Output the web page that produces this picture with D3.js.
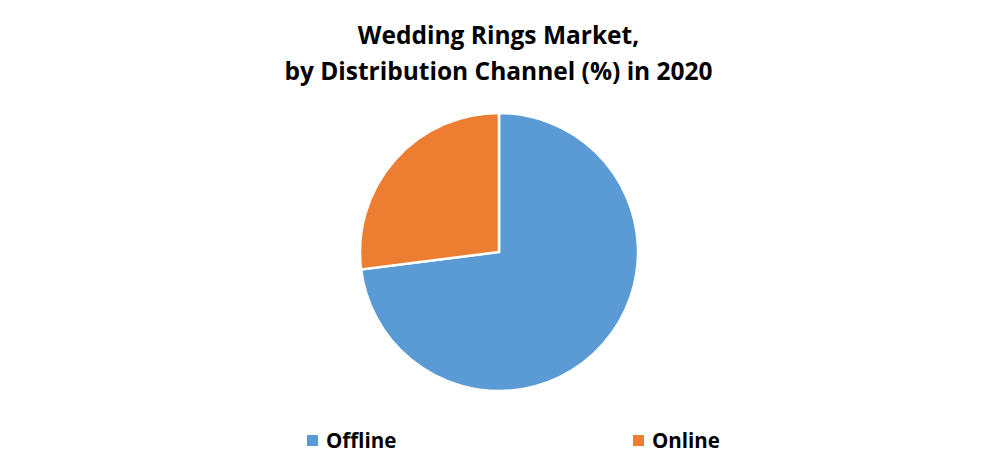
<!DOCTYPE html>
<html>
<head>
<meta charset="utf-8">
<script src="https://cdn.jsdelivr.net/npm/d3@7"></script>
<style>
	body { margin: 0; background: #fff; }
	text { font-family: "Open Sans", "Noto Sans", sans-serif; font-weight: bold; fill: #000; }
</style>
</head>
<body>
<svg id="svg_chart"></svg>
<script>
// data
var categories = ["Offline", "Online"];
var shares = [73, 27];
var colours = ["#5b9bd5", "#ed7d31"];
var title_lines = ["Wedding Rings Market,", "by Distribution Channel (%) in 2020"];

var width = 997,
	height = 471;

var pie_cx = 499,
	pie_cy = 252,
	pie_r = 139;

var svg = d3.select("svg#svg_chart")
	.attr("width", width)
	.attr("height", height);

// ====================================================
// title
svg.append("g")
	.attr("class", "title")
	.selectAll("text")
	.data(title_lines)
	.enter().append("text")
	.attr("x", width / 2)
	.attr("y", function(d, i) { return 44 + i * 36; })
	.attr("text-anchor", "middle")
	.style("font-size", "24.5px")
	.text(function(d) { return d; });

// ====================================================
// the pie, starting at 12 o'clock and going clockwise
var pie = d3.pie()
	.sort(null)
	.value(function(d) { return d; });

var arc = d3.arc()
	.innerRadius(0)
	.outerRadius(pie_r);

var slices = pie(shares);

svg.append("g")
	.attr("transform", "translate(" + pie_cx + "," + pie_cy + ")")
	.selectAll("path")
	.data(slices)
	.enter().append("path")
	.attr("d", arc)
	.attr("fill", function(d, i) { return colours[i]; })
	.attr("stroke", "#fff")
	.attr("stroke-width", 2.5)
	.attr("stroke-linejoin", "miter");

// ====================================================
// legend along the bottom
var x_legend = d3.scalePoint()
	.domain(categories)
	.range([307, 633]);

var legend = svg.append("g")
	.attr("class", "legend")
	.selectAll("g")
	.data(categories)
	.enter().append("g")
	.attr("transform", function(d) { return "translate(" + x_legend(d) + "," + 435 + ")"; });

legend.append("rect")
	.attr("width", 11)
	.attr("height", 11)
	.attr("fill", function(d, i) { return colours[i]; });

legend.append("text")
	.attr("x", 19)
	.attr("y", 12.5)
	.style("font-size", "20.5px")
	.text(function(d) { return d; });
</script>
</body>
</html>
